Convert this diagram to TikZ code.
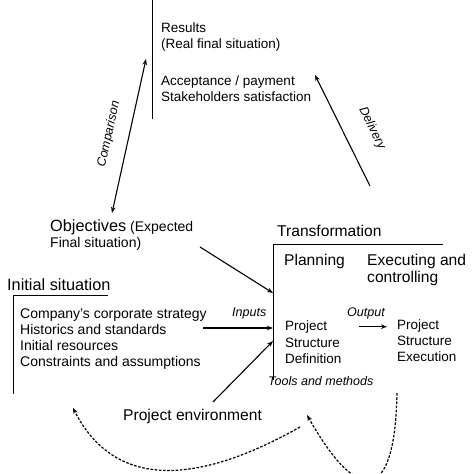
\documentclass[tikz,border=0pt]{standalone}
\usepackage{fontspec}
\setmainfont{Liberation Sans}
\usetikzlibrary{arrows.meta}
\begin{document}
\begin{tikzpicture}[x=1pt,y=-1pt,
  txt/.style={inner sep=0pt, anchor=base west, align=left},
  head/.style={txt, font=\fontsize{15.6}{18}\selectfont},
  body/.style={txt, font=\fontsize{14}{16.2}\selectfont},
  small/.style={txt, font=\fontsize{13.5}{16.2}\selectfont},
  lab/.style={inner sep=0pt, font=\fontsize{12.5}{14}\selectfont\itshape},
  frame/.style={line width=1pt},
  arr/.style={line width=1.1pt, -{Stealth[length=6pt,width=4.5pt]}},
  darr/.style={line width=1.1pt, {Stealth[length=6pt,width=4.5pt]}-{Stealth[length=6pt,width=4.5pt]}},
  dasharr/.style={line width=1.2pt, dash pattern=on 2.6pt off 1.6pt, -{Stealth[length=6pt,width=4.5pt]}}
]
\useasboundingbox (0,0) rectangle (474,474);

% Results (multi-line nodes are placed by the baseline of their last line)
\coordinate (rtop) at (152.5,0);
\coordinate (rbot) at (152.5,119);
\draw[frame] (rtop) -- (rbot);
\node[small] (res) at (161,48.3) {Results\\(Real final situation)};
\node[small] (acc) at (161,101.7) {Acceptance / payment\\Stakeholders satisfaction};

% Comparison
\coordinate (cmpA) at (112,213);
\coordinate (cmpB) at (146,59);
\draw[darr] (cmpA) -- (cmpB);
\node[lab, rotate=77.5] (cmp) at (109,134) {Comparison};

% Delivery
\coordinate (dlA) at (370,186);
\coordinate (dlB) at (315,75);
\draw[arr] (dlA) -- (dlB);
\node[lab, rotate=-63.6] (dl) at (372,128) {Delivery};

% Objectives
\node[txt, font=\fontsize{14}{16}\selectfont] (obj) at (50,247) {{\fontsize{16.3}{16}\selectfont Objectives} (Expected\\Final situation)};
\coordinate (objA) at (200,247);
\coordinate (objB) at (273,293);
\draw[arr] (objA) -- (objB);

% Initial situation
\node[txt, font=\fontsize{16.3}{18}\selectfont] (init) at (7,290) {Initial situation};
\coordinate (ib1) at (108,295);
\coordinate (ib2) at (13,295);
\coordinate (ib3) at (13,394);
\draw[frame] (ib1) -- (ib2) -- (ib3);
\node[body] (initl) at (20,366.7) {Company's corporate strategy\\Historics and standards\\Initial resources\\Constraints and assumptions};

% Inputs
\node[lab, anchor=base west] (inp) at (232,316) {Inputs};
\coordinate (inA) at (203,328);
\coordinate (inB) at (273,328);
\draw[arr] (inA) -- (inB);

% Transformation
\node[head] (trans) at (277,236) {Transformation};
\coordinate (tb1) at (443,244);
\coordinate (tb2) at (273,244);
\coordinate (tb3) at (273,380);
\draw[frame] (tb1) -- (tb2) -- (tb3);
\node[head] (plan) at (284,265) {Planning};
\node[txt, font=\fontsize{15.6}{17.7}\selectfont] (exec) at (367,282.7) {Executing and\\controlling};
\node[small] (psd) at (285,363.3) {Project\\Structure\\Definition};
\node[small] (pse) at (397,361.7) {Project\\Structure\\Execution};
\node[lab, anchor=base west] (outp) at (347,316) {Output};
\coordinate (outA) at (359,326.7);
\coordinate (outB) at (387,326.7);
\draw[arr] (outA) -- (outB);
\node[lab, anchor=base west] (tools) at (268,385.5) {Tools and methods};

% Project environment
\node[txt, font=\fontsize{15.6}{18}\selectfont] (env) at (123,420) {Project environment};
\coordinate (envA) at (213,402);
\coordinate (envB) at (273,341);
\draw[arr] (envA) -- (envB);

% dashed curves
\coordinate (c1s) at (300,427);
\coordinate (c1e) at (73,408);
\coordinate (c2s) at (397,393);
\coordinate (c2e) at (307,415);
\draw[dasharr] (c1s) .. controls (215,475) and (120,500) .. (c1e);
\draw[dasharr] (c2s) .. controls (395,505) and (358,505) .. (c2e);
\end{tikzpicture}
\end{document}
